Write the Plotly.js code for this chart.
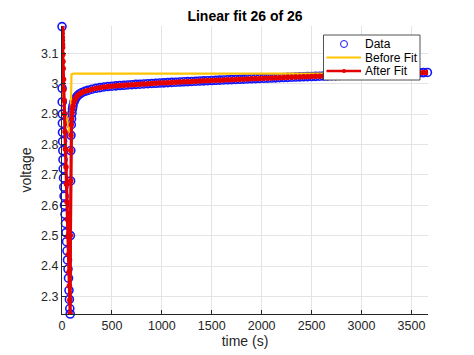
<!DOCTYPE html>
<html>
<head>
<meta charset="utf-8">
<script src="https://cdn.plot.ly/plotly-3.0.1.min.js"></script>
<style>html,body{margin:0;padding:0;background:#fff;}#chart{width:474px;height:355px;}</style>
</head>
<body>
<div id="chart"></div>
<script>
// time points (s) shared by the data and the fitted curve
const timeS = [0,1,2,3,4,5,6,8,10,12,15,18,21,25,30,35,40,45,50,55,60,65,70,74,78,82,
  84,86,88,90,93,96,100,105,110,120,130,145,160,180,200,230,260,300,340,
  380,420,460,500,540,580,620,660,700,740,780,820,860,900,940,980,1020,1060,1100,1140,1180,1220,1260,1300,1340,1380,1420,1460,1500,
  1540,1580,1620,1660,1700,1740,1780,1820,1860,1900,1940,1980,2020,2060,2100,2140,2180,2220,2260,2300,2340,2380,2420,2460,2500,
  2540,2580,2620,2660,2700,2740,2780,2820,2860,2900,2940,2980,3020,3060,3100,3140,3180,3220,3260,3300,3340,3380,3420,3460,3500,
  3540,3580,3620,3660];

// measured voltage (Data)
const voltageData = [3.188,2.985,2.94,2.90,2.87,2.84,2.81,2.78,2.75,2.72,2.69,2.66,2.63,2.60,2.57,2.54,2.51,2.48,2.45,2.42,2.39,2.36,2.32,2.29,2.26,2.242,
  2.50,2.68,2.78,2.83,2.865,2.885,2.903,2.917,2.927,2.94,2.948,2.956,2.962,2.967,2.971,2.975,2.978,2.982,2.985,
  2.987,2.9893,2.9907,2.9919,2.9930,2.9941,2.9950,2.9959,2.9968,2.9977,2.9985,2.9993,3.0000,3.0008,3.0015,3.0022,3.0029,3.0036,3.0043,3.0050,3.0056,3.0063,3.0069,3.0075,3.0082,3.0088,3.0094,3.0100,3.0106,
  3.0112,3.0117,3.0123,3.0129,3.0134,3.0140,3.0146,3.0151,3.0156,3.0162,3.0167,3.0173,3.0178,3.0183,3.0188,3.0193,3.0199,3.0204,3.0209,3.0214,3.0219,3.0224,3.0229,3.0233,3.0238,
  3.0243,3.0248,3.0253,3.0257,3.0263,3.0267,3.0272,3.0277,3.0281,3.0286,3.0291,3.0295,3.0300,3.0304,3.0309,3.0313,3.0318,3.0322,3.0327,3.0331,3.0335,3.0340,3.0344,3.0348,3.0353,
  3.0357,3.0361,3.0366,3.037];

// fitted voltage (After Fit)
const voltageFit = [3.188,3.176,3.165,3.153,3.142,3.130,3.119,3.096,3.073,3.05,3.015,2.98,2.946,2.90,2.842,2.784,2.726,2.669,2.611,2.553,2.496,2.438,2.38,2.334,2.288,2.242,
  2.50,2.68,2.78,2.83,2.865,2.885,2.903,2.917,2.927,2.94,2.948,2.956,2.962,2.967,2.971,2.975,2.978,2.982,2.985,
  2.987,2.9893,2.9907,2.9919,2.9930,2.9941,2.9950,2.9959,2.9968,2.9977,2.9985,2.9993,3.0000,3.0008,3.0015,3.0022,3.0029,3.0036,3.0043,3.0050,3.0056,3.0063,3.0069,3.0075,3.0082,3.0088,3.0094,3.0100,3.0106,
  3.0112,3.0117,3.0123,3.0129,3.0134,3.0140,3.0146,3.0151,3.0156,3.0162,3.0167,3.0173,3.0178,3.0183,3.0188,3.0193,3.0199,3.0204,3.0209,3.0214,3.0219,3.0224,3.0229,3.0233,3.0238,
  3.0243,3.0248,3.0253,3.0257,3.0263,3.0267,3.0272,3.0277,3.0281,3.0286,3.0291,3.0295,3.0300,3.0304,3.0309,3.0313,3.0318,3.0322,3.0327,3.0331,3.0335,3.0340,3.0344,3.0348,3.0353,
  3.0357,3.0361,3.0366,3.037];

// initial guess curve (Before Fit)
const timeBefore = [0,1,20,50,75,82,85,87,88,89,90,92,95,100,120,200,500,1000,2000,3000,3660];
const voltageBefore = [3.188,2.99,2.93,2.88,2.84,2.83,2.85,2.92,2.97,3.01,3.025,3.03,3.031,3.032,3.033,3.033,3.033,3.033,3.033,3.033,3.033];

const seriesNames = ['Data', 'Before Fit', 'After Fit'];
const xTicks = [0,500,1000,1500,2000,2500,3000,3500];
const yTicks = [2.3,2.4,2.5,2.6,2.7,2.8,2.9,3,3.1];

const fontFam = '"Liberation Sans", Arial, Helvetica, sans-serif';
const axColor = '#262626';
const cBlue = 'rgb(20,20,255)', cYellow = 'rgb(255,196,0)', cRed = 'rgb(228,0,0)';

const traces = [
  {x: timeS, y: voltageData, name: seriesNames[0], type: 'scatter', mode: 'markers', cliponaxis: false,
   marker: {symbol: 'circle-open', size: 8, color: cBlue, line: {width: 1.6, color: cBlue}}},
  {x: timeBefore, y: voltageBefore, name: seriesNames[1], type: 'scatter', mode: 'lines',
   line: {color: cYellow, width: 2.2}},
  {x: timeS, y: voltageFit, name: seriesNames[2], type: 'scatter', mode: 'lines+markers',
   line: {color: cRed, width: 3.2}, marker: {size: 5.5, color: cRed}}
];

// plot area in pixels (for the hand-drawn legend box)
const M = {l: 62, r: 46, t: 26, b: 41};
const W = 474, H = 355;
const pw = W - M.l - M.r, ph = H - M.t - M.b;
const px = v => (v - M.l) / pw;
const py = v => (H - M.b - v) / ph;

const legRows = [44, 57.5, 71];
const shapes = [
  {type: 'rect', xref: 'paper', yref: 'paper', x0: px(323.5), x1: px(420), y0: py(80), y1: py(35),
   fillcolor: '#fff', line: {color: axColor, width: 0.8}, layer: 'above'},
  {type: 'circle', xref: 'paper', yref: 'paper', xsizemode: 'pixel', ysizemode: 'pixel',
   xanchor: px(344), yanchor: py(legRows[0]), x0: -3.5, x1: 3.5, y0: -3.5, y1: 3.5,
   line: {color: cBlue, width: 1}, fillcolor: 'rgba(0,0,0,0)', layer: 'above'},
  {type: 'line', xref: 'paper', yref: 'paper', x0: px(326.5), x1: px(361), y0: py(legRows[1]), y1: py(legRows[1]),
   line: {color: cYellow, width: 2.2}, layer: 'above'},
  {type: 'line', xref: 'paper', yref: 'paper', x0: px(326.5), x1: px(361), y0: py(legRows[2]), y1: py(legRows[2]),
   line: {color: cRed, width: 2.5}, layer: 'above'},
  {type: 'circle', xref: 'paper', yref: 'paper', xsizemode: 'pixel', ysizemode: 'pixel',
   xanchor: px(344), yanchor: py(legRows[2]), x0: -2, x1: 2, y0: -2, y1: 2,
   line: {color: cRed, width: 0}, fillcolor: cRed, layer: 'above'}
];
const annotations = seriesNames.map((n, i) => ({
  text: n, xref: 'paper', yref: 'paper', x: px(362.5), y: py(legRows[i]),
  xanchor: 'left', yanchor: 'middle', showarrow: false,
  font: {size: 12, color: '#000', family: fontFam}
}));

const layout = {
  width: W, height: H,
  margin: {l: M.l, r: M.r, t: M.t, b: M.b, pad: 0},
  paper_bgcolor: '#fff', plot_bgcolor: '#fff',
  font: {family: fontFam, color: axColor, size: 12},
  title: {text: '<b>Linear fit 26 of 26</b>', font: {size: 14, color: '#000', family: fontFam},
          x: 0.5, xref: 'paper', xanchor: 'center', y: 0.955, yanchor: 'middle'},
  showlegend: false,
  shapes: shapes,
  annotations: annotations,
  xaxis: {range: [0, 3666], tickvals: xTicks, ticktext: xTicks.map(String),
          showgrid: true, gridcolor: 'rgb(228,228,228)', gridwidth: 1, zeroline: false,
          showline: true, linecolor: axColor, linewidth: 1, ticks: 'inside', ticklen: 4,
          tickcolor: axColor, tickfont: {size: 12.5, color: axColor},
          title: {text: 'time (s)', font: {size: 14, color: axColor}, standoff: 4}},
  yaxis: {range: [2.242, 3.19], tickvals: yTicks, ticktext: yTicks.map(String),
          showgrid: true, gridcolor: 'rgb(228,228,228)', gridwidth: 1, zeroline: false,
          showline: true, linecolor: axColor, linewidth: 1, ticks: 'inside', ticklen: 4,
          tickcolor: axColor, tickfont: {size: 12.5, color: axColor},
          title: {text: 'voltage', font: {size: 14, color: axColor}, standoff: 6}}
};

Plotly.newPlot('chart', traces, layout, {displayModeBar: false, staticPlot: true});
</script>
</body>
</html>
